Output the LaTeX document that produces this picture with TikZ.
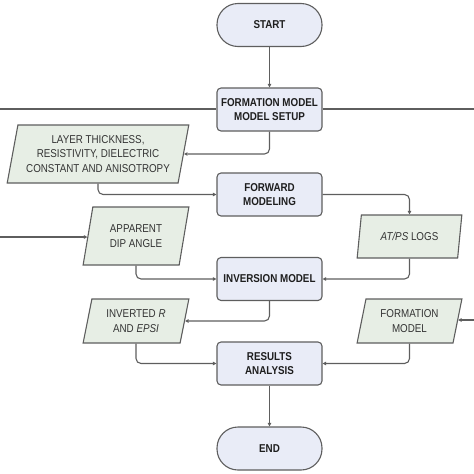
\documentclass[tikz,border=0pt]{standalone}
\usepackage{fontspec}
\setmainfont{Liberation Sans}
\newfontfamily\cond[FakeStretch=0.86]{Liberation Sans}
\usetikzlibrary{shapes.geometric,arrows.meta}
\definecolor{boxfill}{HTML}{E9ECF7}
\definecolor{parfill}{HTML}{E7EEE5}
\definecolor{edge}{HTML}{5E5E5E}
\definecolor{txt}{HTML}{1E1E1E}
\definecolor{ptxt}{HTML}{333333}
\tikzset{
  procbox/.style={draw=edge, line width=1.1pt, fill=boxfill, rounded corners=4pt,
    minimum width=105pt, minimum height=43pt, inner sep=1pt, align=center,
    font=\cond\fontsize{11.4}{14.5}\selectfont\bfseries, text=txt},
  termbox/.style={procbox, rounded corners=21pt},
  iobox/.style={draw=edge, line width=1.1pt, fill=parfill, trapezium,
    trapezium left angle=76, trapezium right angle=104, trapezium stretches=true,
    inner sep=1pt, align=center, font=\cond\fontsize{11.4}{14.5}\selectfont, text=ptxt},
  conn/.style={draw=edge, line width=1.1pt, rounded corners=5pt,
    -{Triangle[open, length=3.5pt, width=3.5pt]}},
  plain/.style={draw=edge, line width=1.1pt}
}
\begin{document}
\begin{tikzpicture}[x=1pt,y=-1pt]
\useasboundingbox (0,0) rectangle (474,474);
\node[termbox] (start) at (269.5,25) {START};
\node[procbox] (fms) at (269.5,109.5) {FORMATION MODEL\\MODEL SETUP};
\node[iobox, minimum width=182pt, minimum height=58pt] (layer) at (98,154) {LAYER THICKNESS,\\RESISTIVITY, DIELECTRIC\\CONSTANT AND ANISOTROPY};
\node[procbox] (fwd) at (269.5,194.5) {FORWARD\\MODELING};
\node[iobox, minimum width=106pt, minimum height=58pt] (app) at (136,236) {APPARENT\\DIP ANGLE};
\node[iobox, minimum width=105pt, minimum height=43pt] (atps) at (409.5,236.5) {\textit{AT/PS} LOGS};
\node[procbox] (inv) at (269.5,279) {INVERSION MODEL};
\node[iobox, minimum width=106pt, minimum height=44pt] (invr) at (136,321) {INVERTED \textit{R}\\AND \textit{EPSI}};
\node[iobox, minimum width=105pt, minimum height=44pt] (fm) at (409.5,321) {FORMATION\\MODEL};
\node[procbox] (res) at (269.5,363.5) {RESULTS\\ANALYSIS};
\node[termbox] (end) at (269.5,448.5) {END};
\coordinate (hl) at (0,109);
\coordinate (hr) at (474,109);
\coordinate (inl) at (0,237);
\coordinate (inr) at (474,320);
\draw[plain] (hl) -- (fms.west |- hl);
\draw[plain] (fms.east |- hr) -- (hr);
\draw[conn] (start.south) -- (fms.north);
\draw[conn] (fms.south) |- (layer.east);
\draw[conn] (layer.south) |- (fwd.west);
\draw[conn] (fwd.east) -| (atps.north);
\draw[conn] (inl) -- (inl -| app.west);
\draw[conn] (app.south) |- (inv.west);
\draw[conn] (atps.south) |- (inv.east);
\draw[conn] (inv.south) |- (invr.east);
\draw[conn] (inr) -- (inr -| fm.east);
\draw[conn] (invr.south) |- (res.west);
\draw[conn] (fm.south) |- (res.east);
\draw[conn] (res.south) -- (end.north);
\end{tikzpicture}
\end{document}
